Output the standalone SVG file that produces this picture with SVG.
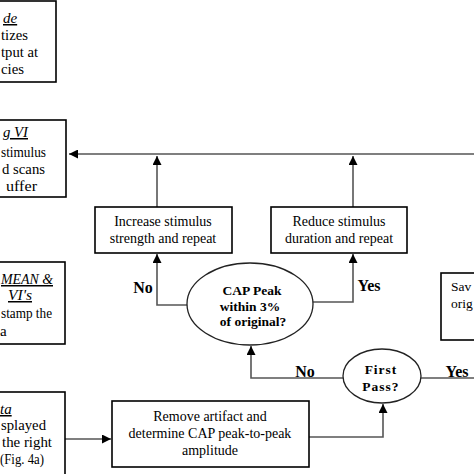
<svg xmlns="http://www.w3.org/2000/svg" width="474" height="474" viewBox="0 0 474 474">
<style>
.box{fill:#fff;stroke:#000;stroke-width:1.6}
.ell{fill:#fff;stroke:#222;stroke-width:1.3}
.t{font-family:"Liberation Serif","Times New Roman",serif;font-size:15px;fill:#000}
.ti{font-family:"Liberation Serif","Times New Roman",serif;font-size:15px;font-style:italic;text-decoration:underline;fill:#000}
.c{font-family:"Liberation Serif","Times New Roman",serif;font-size:14px;fill:#000;text-anchor:middle}
.b{font-family:"Liberation Serif","Times New Roman",serif;font-size:13.5px;font-weight:bold;fill:#000;text-anchor:middle}
.lbl{font-family:"Liberation Serif","Times New Roman",serif;font-size:16px;font-weight:bold;fill:#000;text-anchor:middle}
.ln{fill:none;stroke:#555;stroke-width:1.6}
</style>
<defs>
<marker id="ah" viewBox="0 0 10 10" refX="10" refY="5" markerWidth="9" markerHeight="9" markerUnits="userSpaceOnUse" orient="auto">
<path d="M0,0 L10,5 L0,10 Z" fill="#000"/>
</marker>
</defs>
<rect width="474" height="474" fill="#fff"/>
<g id="connectors">
<path class="ln" d="M474,154 H69" marker-end="url(#ah)"/>
<path class="ln" d="M157,207 V156" marker-end="url(#ah)"/>
<path class="ln" d="M353,207 V156" marker-end="url(#ah)"/>
<path class="ln" d="M188,305 H157 V254" marker-end="url(#ah)"/>
<path class="ln" d="M313,302 H353 V254" marker-end="url(#ah)"/>
<path class="ln" d="M343,378 H251 V346" marker-end="url(#ah)"/>
<path class="ln" d="M309,437 H383 V404" marker-end="url(#ah)"/>
<path class="ln" d="M65,439 H111" marker-end="url(#ah)"/>
<path class="ln" d="M421,378 H474"/>
<text class="lbl" x="143" y="293">No</text>
<text class="lbl" x="369" y="291">Yes</text>
<text class="lbl" x="305" y="377">No</text>
<text class="lbl" x="457" y="377">Yes</text>
</g>
<g id="box1">
<rect class="box" x="-20" y="1" width="76" height="81"/>
<text class="ti" x="3" y="23">de</text>
<text class="t" x="1" y="40" textLength="27" lengthAdjust="spacingAndGlyphs">tizes</text>
<text class="t" x="1" y="57" textLength="37" lengthAdjust="spacingAndGlyphs">tput at</text>
<text class="t" x="1" y="74" textLength="23" lengthAdjust="spacingAndGlyphs">cies</text>
</g>
<g id="box2">
<rect class="box" x="-20" y="120" width="86" height="77"/>
<text class="ti" x="3" y="137" textLength="25" lengthAdjust="spacingAndGlyphs">g VI</text>
<text class="t" x="1" y="157" textLength="45" lengthAdjust="spacingAndGlyphs">stimulus</text>
<text class="t" x="2" y="174" textLength="43" lengthAdjust="spacingAndGlyphs">d scans</text>
<text class="t" x="6" y="191" textLength="31" lengthAdjust="spacingAndGlyphs">uffer</text>
</g>
<g id="box3">
<rect class="box" x="-20" y="262" width="85" height="82"/>
<text class="ti" x="1" y="284" textLength="52" lengthAdjust="spacingAndGlyphs">MEAN &amp;</text>
<text class="ti" x="8" y="300" textLength="24" lengthAdjust="spacingAndGlyphs">VI's</text>
<text class="t" x="1" y="318" textLength="51" lengthAdjust="spacingAndGlyphs">stamp the</text>
<text class="t" x="0" y="336">a</text>
</g>
<g id="box4">
<rect class="box" x="-20" y="392" width="85" height="100"/>
<text class="ti" x="0" y="414">ta</text>
<text class="t" x="1" y="430" textLength="45" lengthAdjust="spacingAndGlyphs">splayed</text>
<text class="t" x="2" y="447" textLength="50" lengthAdjust="spacingAndGlyphs">the right</text>
<text class="t" x="0" y="464" textLength="44" lengthAdjust="spacingAndGlyphs">(Fig. 4a)</text>
</g>
<g id="increase">
<rect class="box" x="95" y="207" width="137" height="46"/>
<text class="c" x="163" y="226">Increase stimulus</text>
<text class="c" x="163" y="243">strength and repeat</text>
</g>
<g id="reduce">
<rect class="box" x="271" y="207" width="136" height="46"/>
<text class="c" x="339" y="226">Reduce stimulus</text>
<text class="c" x="339" y="243">duration and repeat</text>
</g>
<g id="save">
<rect class="box" x="441" y="273" width="60" height="67"/>
<text class="t" x="451" y="291" style="font-size:13.5px">Sav</text>
<text class="t" x="451" y="308" style="font-size:13.5px">orig</text>
</g>
<g id="cappeak">
<ellipse class="ell" cx="250" cy="304" rx="63" ry="41"/>
<text class="b" x="252" y="295">CAP Peak</text>
<text class="b" x="250" y="311">within 3%</text>
<text class="b" x="253" y="326">of original?</text>
</g>
<g id="firstpass">
<ellipse class="ell" cx="382" cy="376" rx="39" ry="27"/>
<text class="b" x="381" y="374" style="letter-spacing:1px">First</text>
<text class="b" x="381" y="391" style="letter-spacing:1px">Pass?</text>
</g>
<g id="remove">
<rect class="box" x="112" y="401" width="197" height="66"/>
<text class="c" x="210" y="421">Remove artifact and</text>
<text class="c" x="210" y="438">determine CAP peak-to-peak</text>
<text class="c" x="210" y="455">amplitude</text>
</g>
</svg>
